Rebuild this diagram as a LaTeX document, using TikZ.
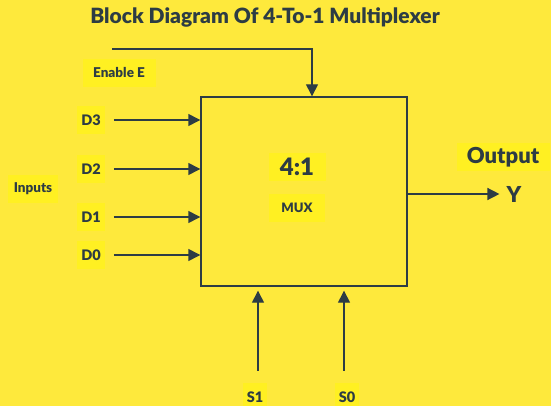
\documentclass[tikz,border=0pt]{standalone}
\usepackage{fontspec}
\setmainfont{Lato}[BoldFont={Lato Black}]
\usetikzlibrary{arrows.meta, positioning}
\definecolor{muxbg}{HTML}{FEE93C}
\definecolor{tagfill}{HTML}{FFF022}
\definecolor{ink}{HTML}{2D3C44}
\newcommand{\fsz}[1]{\fontsize{#1}{#1}\selectfont\bfseries}

\begin{document}
\begin{tikzpicture}[
        x=1pt,
        y=-1pt,
        >={Triangle[length=12pt, width=12pt]},
        every node/.style={text=ink, font=\fsz{13}},
        tag/.style={fill=tagfill, inner xsep=4pt, inner ysep=0pt, minimum height=28pt},
        wire/.style={draw=ink, line width=1.4pt}
    ]
    \fill[muxbg] (0,0) rectangle (551,406);
    \useasboundingbox (0,0) rectangle (551,406);

    \node[font=\fsz{21}] (title) at (265,17) {Block Diagram Of 4-To-1 Multiplexer};

    \node[wire, minimum width=206pt, minimum height=189pt] (mux) at (304,191.5) {};
    \node[tag, font=\fsz{24}, minimum width=57pt] (ratio) at (297,167) {4:1};
    \node[tag, font=\fsz{13}, minimum width=56pt] (muxtext) at (297,208) {MUX};

    % data inputs
    \node[tag, font=\fsz{13.5}, inner xsep=6pt] (inputs) at (33,189) {Inputs};
    \node[tag, font=\fsz{14.5}] (d3) at (91,120) {D3};
    \node[tag, font=\fsz{14.5}] (d2) at (91,169) {D2};
    \node[tag, font=\fsz{14.5}] (d1) at (91,217) {D1};
    \node[tag, font=\fsz{14.5}] (d0) at (91,255) {D0};
    \foreach \d in {d3, d2, d1, d0}
        \draw[wire, ->] ([xshift=9pt]\d.east) -- (\d -| mux.west);

    % enable
    \node[tag, font=\fsz{13.5}, minimum width=73pt] (enable) at (119,73) {Enable E};
    \coordinate (enstart) at (112,49);
    \draw[wire, ->] (enstart) -| ([xshift=8pt]mux.north);

    % select lines
    \node[tag, font=\fsz{14.5}] (s1) at (255,397) {S1};
    \node[tag, font=\fsz{14.5}] (s0) at (347,397) {S0};
    \draw[wire, ->, shorten >=4pt] ([xshift=3pt, yshift=12pt]s1.north) -- ([xshift=3pt]s1.north |- mux.south);
    \draw[wire, ->, shorten >=4pt] ([xshift=-3pt, yshift=12pt]s0.north) -- ([xshift=-3pt]s0.north |- mux.south);

    % output
    \node[tag, font=\fsz{22}, minimum width=93pt] (output) at (503,157) {Output};
    \node[font=\fsz{22}, inner sep=1pt] (yout) at (514,194) {Y};
    \draw[wire, ->] (mux.east |- yout) -- ([xshift=-6pt]yout.west);
\end{tikzpicture}
\end{document}
